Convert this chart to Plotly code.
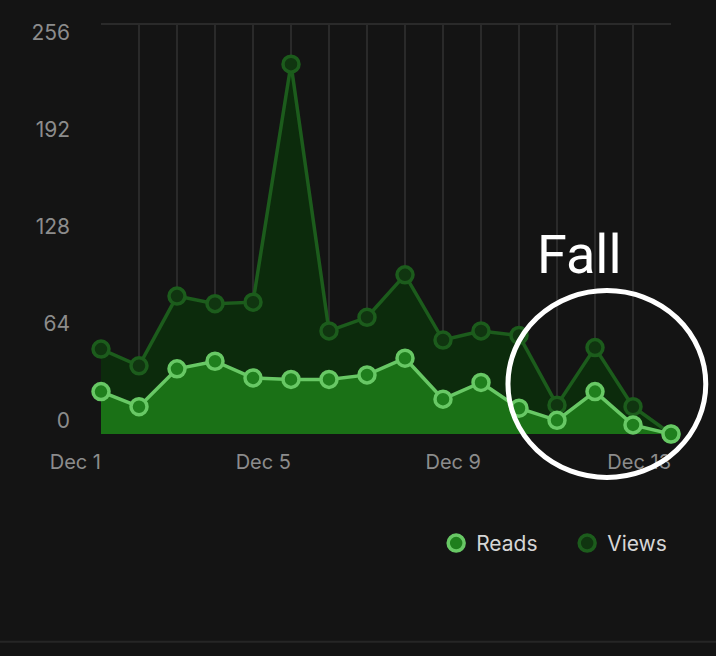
import plotly.graph_objects as go

# ---- data ----
day_index = list(range(16))
views = [56, 45, 91, 86, 87, 244, 68, 77, 105, 62, 68, 65, 19, 57, 18, 0]
reads = [28, 18, 43, 48, 37, 36, 36, 39, 50, 23, 34, 17, 9, 28, 6, 0]
x_tick_labels = ["Dec 1", "Dec 5", "Dec 9", "Dec 13"]
x_tick_at = [0, 5, 10, 15]
y_ticks = [0, 64, 128, 192, 256]

BG = "#141414"
GRID = "#2a2a2a"
VIEWS_FILL = "#0c2b0c"
VIEWS_LINE = "#1c5c1c"
VIEWS_MARK = "#103510"
READS_FILL = "#1a7116"
READS_LINE = "#68c865"
READS_MARK = "#1f7f1d"
FONT = "Inter"

ticktext = []
for i in day_index:
    ticktext.append(x_tick_labels[x_tick_at.index(i)] if i in x_tick_at else "")

fig = go.Figure()
fig.add_trace(go.Scatter(
    x=day_index, y=views, mode="lines+markers", fill="tozeroy",
    fillcolor=VIEWS_FILL, line=dict(color=VIEWS_LINE, width=3.5),
    marker=dict(size=16, color=VIEWS_MARK, line=dict(color=VIEWS_LINE, width=3.5)),
    cliponaxis=False, showlegend=False, hoverinfo="skip"))
fig.add_trace(go.Scatter(
    x=day_index, y=reads, mode="lines+markers", fill="tozeroy",
    fillcolor=READS_FILL, line=dict(color=READS_LINE, width=3.5),
    marker=dict(size=16, color=READS_MARK, line=dict(color=READS_LINE, width=3.5)),
    cliponaxis=False, showlegend=False, hoverinfo="skip"))

# legend-only entries
fig.add_trace(go.Scatter(x=[None], y=[None], mode="markers", name="Reads",
    marker=dict(size=16, color=READS_MARK, line=dict(color=READS_LINE, width=3.5))))
fig.add_trace(go.Scatter(x=[None], y=[None], mode="markers", name="Views",
    marker=dict(size=16, color=VIEWS_MARK, line=dict(color=VIEWS_LINE, width=3.5))))

fig.update_layout(
    width=716, height=656,
    paper_bgcolor=BG, plot_bgcolor=BG,
    margin=dict(l=101, r=45, t=24, b=222),
    font=dict(family=FONT, color="#8c8c8c", size=18),
    showlegend=True,
    legend=dict(orientation="h", x=0.588, xanchor="left", y=-0.267, yanchor="middle",
                entrywidth=86, entrywidthmode="pixels",
                font=dict(size=21, color="#d6d6d6", family=FONT),
                bgcolor="rgba(0,0,0,0)", itemclick=False),
    xaxis=dict(range=[0, 15], tickvals=day_index, ticktext=ticktext,
               showgrid=True, gridcolor=GRID, gridwidth=1.5,
               zeroline=False, showline=False, ticks="",
               ticklabelposition="outside left", ticklabelstandoff=14,
               tickfont=dict(size=20, color="#8c8c8c", family=FONT)),
    yaxis=dict(range=[0, 270.5], tickvals=y_ticks, showgrid=False,
               zeroline=False, showline=False, ticks="",
               ticklabelshift=-13, ticklabelstandoff=30,
               tickfont=dict(size=21, color="#8c8c8c", family=FONT)),
    shapes=[
        dict(type="line", xref="paper", yref="paper", x0=0, x1=1, y0=1, y1=1,
             line=dict(color=GRID, width=2), layer="below"),
        dict(type="line", xref="paper", yref="paper", x0=-0.18, x1=1.08,
             y0=-0.507, y1=-0.507, line=dict(color="#262626", width=2)),
        dict(type="circle", xref="paper", yref="paper", x0=0.714, x1=1.061,
             y0=-0.106, y1=0.35, line=dict(color="white", width=5), layer="above"),
    ],
    annotations=[
        dict(text="Fall", xref="paper", yref="paper", x=0.84, y=0.438,
             showarrow=False, font=dict(size=54, color="white", family="Roboto"),
             xanchor="center", yanchor="middle"),
    ],
)

fig.write_html(
    "out.html",
    config={"displayModeBar": False},
    post_script="document.body.style.margin='0';document.body.style.background='#141414';",
)
